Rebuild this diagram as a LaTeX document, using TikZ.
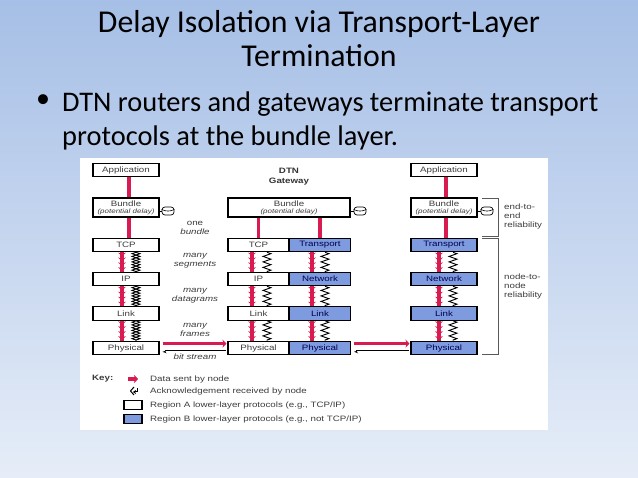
\documentclass[tikz,border=0pt]{standalone}
\usepackage{fontspec}
\setmainfont{Carlito}
\newfontfamily\figfont[FakeStretch=1.25]{Liberation Sans}
\usetikzlibrary{arrows.meta}
\usetikzlibrary{decorations.pathmorphing}
\usetikzlibrary{decorations.markings}
\definecolor{slidetop}{HTML}{A6BFE6}
\definecolor{slidebottom}{HTML}{E6EDF8}
\definecolor{datared}{HTML}{D81B50}
\definecolor{regionblue}{HTML}{7F9BE0}
\definecolor{labelgray}{HTML}{3C3C3C}
\tikzset{
	layerbox/.style={draw=black,line width=1.1pt,minimum height=13.5pt,inner sep=0pt,font=\figfont\fontsize{7.8}{8}\selectfont,text=labelgray},
	regionb/.style={fill=regionblue,text=blue!30!black},
	figtext/.style={font=\figfont\fontsize{7.8}{9}\selectfont,text=labelgray,align=center,inner sep=0pt},
	figslant/.style={figtext,font=\figfont\itshape\fontsize{7.8}{9}\selectfont},
	keytext/.style={figtext,anchor=west},
	dataline/.style={draw=datared,line width=3.6pt},
	datatip/.style={dataline,-{Stealth[length=4pt,width=8pt]}},
	datastack/.style={dataline,line width=4.5pt,postaction={decorate},decoration={markings,
		mark=at position 0.2 with {\arrow[datared]{Stealth[width=8pt,length=3.5pt]}},
		mark=at position 0.45 with {\arrow[datared]{Stealth[width=8pt,length=3.5pt]}},
		mark=at position 0.7 with {\arrow[datared]{Stealth[width=8pt,length=3.5pt]}},
		mark=at position 0.95 with {\arrow[datared]{Stealth[width=8pt,length=3.5pt]}}}},
	ackline/.style={draw=black,line width=0.9pt,decorate,decoration={zigzag,segment length=5.5pt,amplitude=4pt}},
	ackmirror/.style={ackline,decoration={zigzag,segment length=5.5pt,amplitude=4pt,mirror}},
	drum/.style={draw=black,line width=0.7pt,rounded corners=3pt,minimum width=12pt,minimum height=8pt,inner sep=0pt},
	bracketline/.style={draw=black!65,line width=0.8pt},
	hollowline/.style={line width=0.7pt,double=white,double distance=1.6pt,draw=black,-{Stealth[length=4pt,open,fill=white]}},
}
\begin{document}
\begin{tikzpicture}[x=1pt,y=-1pt]
	\useasboundingbox (0,0) rectangle (638,478);
	\shade[top color=slidetop,bottom color=slidebottom] (0,0) rectangle (638,478);
	\fill[white] (80,158) rectangle (548,430);

	\node[font=\fontsize{31.8}{34}\selectfont,text=black,align=center] (title) at (319,39) {Delay Isolation via Transport-Layer\\Termination};
	\node[font=\fontsize{28}{30}\selectfont,text=black,inner sep=0pt] (bullet) at (43,101) {•};
	\node[font=\fontsize{28.4}{34}\selectfont,text=black,anchor=north west,align=left,inner sep=0pt] (body) at (62,92) {DTN routers and gateways terminate transport\\protocols at the bundle layer.};

	% left node
	\begin{scope}[every node/.style={layerbox,minimum width=66pt}]
		\node (appA) at (126,170) {Application};
		\node[minimum height=19pt,align=center] (bundleA) at (126,207.5) {Bundle\\[-1pt]{\itshape\fontsize{6.4}{7}\selectfont (potential delay)}};
		\node (tcpA) at (126,245) {TCP};
		\node (ipA) at (126,279) {IP};
		\node (linkA) at (126,313.5) {Link};
		\node (physA) at (126,348) {Physical};
	\end{scope}

	% gateway
	\begin{scope}[every node/.style={layerbox,minimum width=61pt}]
		\node[minimum width=122pt,minimum height=19pt,align=center] (bundleG) at (289,207.5) {Bundle\\[-1pt]{\itshape\fontsize{6.4}{7}\selectfont (potential delay)}};
		\node (tcpG) at (258.5,245) {TCP};
		\node (ipG) at (258.5,279) {IP};
		\node (linkG) at (258.5,313.5) {Link};
		\node (physG) at (258.5,348) {Physical};
		\node[regionb] (transG) at (320,245) {Transport};
		\node[regionb] (netG) at (320,279) {Network};
		\node[regionb] (linkH) at (320,313.5) {Link};
		\node[regionb] (physH) at (320,348) {Physical};
	\end{scope}

	% right node
	\begin{scope}[every node/.style={layerbox,minimum width=66pt}]
		\node (appB) at (444,170) {Application};
		\node[minimum height=19pt,align=center] (bundleB) at (444,207.5) {Bundle\\[-1pt]{\itshape\fontsize{6.4}{7}\selectfont (potential delay)}};
		\node[regionb] (transB) at (444,245) {Transport};
		\node[regionb] (netB) at (444,279) {Network};
		\node[regionb] (linkB) at (444,313.5) {Link};
		\node[regionb] (physB) at (444,348) {Physical};
	\end{scope}

	% storage
	\begin{scope}[every node/.style={drum}]
		\node (drumA) at (168,211) {};
		\node (drumG) at (360,211) {};
		\node (drumB) at (487,211) {};
	\end{scope}
	\foreach \bundle/\store in {bundleA/drumA,bundleG/drumG,bundleB/drumB} {
		\draw[line width=0.8pt] (\bundle.east |- \store) -- (\store);
		\draw[line width=0.6pt] ([yshift=1.5pt]\store.west) to[bend right=25] ([yshift=1.5pt]\store.east);
	}

	% single bundle arrows
	\draw[dataline] ([xshift=3pt]appA.south) -- ([xshift=3pt]bundleA.north);
	\draw[dataline] ([xshift=3pt]bundleA.south) -- ([xshift=3pt]tcpA.north);
	\draw[dataline] (bundleG.south -| tcpG) -- (tcpG.north);
	\draw[dataline] (bundleG.south -| transG) -- (transG.north);
	\draw[dataline] ([xshift=2pt]appB.south) -- ([xshift=2pt]bundleB.north);
	\draw[dataline] ([xshift=2pt]bundleB.south) -- ([xshift=2pt]transB.north);

	% segments, datagrams, frames
	\foreach \upper/\lower in {tcpA/ipA,ipA/linkA,linkA/physA} {
		\draw[datastack] ([xshift=-4pt]\upper.south) -- ([xshift=-4pt]\lower.north);
		\draw[ackline] ([xshift=10pt]\upper.south) -- ([xshift=10pt]\lower.north);
		\draw[ackmirror] ([xshift=10pt]\upper.south) -- ([xshift=10pt]\lower.north);
	}
	\foreach \upper/\lower in {tcpG/ipG,ipG/linkG,linkG/physG} {
		\draw[datastack] ([xshift=-6.5pt]\upper.south) -- ([xshift=-6.5pt]\lower.north);
		\draw[ackline] ([xshift=8.5pt]\upper.south) -- ([xshift=8.5pt]\lower.north);
	}
	\foreach \upper/\lower in {transG/netG,netG/linkH,linkH/physH} {
		\draw[datastack] ([xshift=-8pt]\upper.south) -- ([xshift=-8pt]\lower.north);
		\draw[ackline] ([xshift=5pt]\upper.south) -- ([xshift=5pt]\lower.north);
	}
	\foreach \upper/\lower in {transB/netB,netB/linkB,linkB/physB} {
		\draw[datastack] ([xshift=-5pt]\upper.south) -- ([xshift=-5pt]\lower.north);
		\draw[ackline] ([xshift=9pt]\upper.south) -- ([xshift=9pt]\lower.north);
	}

	% bit stream
	\draw[datatip] ([xshift=3pt,yshift=-3pt]physA.north east) -- ([xshift=-1pt,yshift=-3pt]physG.north west);
	\draw[datatip] ([xshift=3pt,yshift=-3pt]physH.north east) -- ([xshift=-1pt,yshift=-3pt]physB.north west);
	\draw[hollowline] ([xshift=-1pt,yshift=3.5pt]physG.south west) -- ([xshift=3pt,yshift=3.5pt]physA.south east);
	\draw[hollowline] ([xshift=-1pt,yshift=3.5pt]physB.south west) -- ([xshift=3pt,yshift=3.5pt]physH.south east);

	% brackets
	\coordinate (endTop) at (482,198);
	\coordinate (endBot) at (482,236);
	\coordinate (hopTop) at (482,238.5);
	\coordinate (hopBot) at (482,354);
	\draw[bracketline] (endTop) -- ++(16,0) |- (endBot);
	\draw[bracketline] (hopTop) -- ++(16,0) |- (hopBot);

	% labels
	\begin{scope}[every node/.style={figtext}]
		\node[font=\figfont\bfseries\fontsize{7.8}{10}\selectfont,text=black!80] (gwlabel) at (289,177) {DTN\\Gateway};
		\node[figslant] (onebundle) at (195,227.5) {\upshape one\\bundle};
		\node[figslant] (segments) at (195,261) {many\\segments};
		\node[figslant] (datagrams) at (195,295.5) {many\\datagrams};
		\node[figslant] (frames) at (195,329.5) {many\\frames};
		\node[figslant] (bitstream) at (195,357) {bit stream};
		\node[anchor=west,align=left] (endlabel) at (504,216.5) {end-to-\\end\\reliability};
		\node[anchor=west,align=left] (hoplabel) at (504,286.5) {node-to-\\node\\reliability};
	\end{scope}

	% key
	\node[figtext,anchor=west,font=\figfont\bfseries\fontsize{7.8}{9}\selectfont] (keylabel) at (92,379) {Key:};
	\node[keytext] (keydata) at (150,379) {Data sent by node};
	\node[keytext] (keyack) at (150,391) {Acknowledgement received by node};
	\node[keytext] (keya) at (150,405) {Region A lower-layer protocols (e.g., TCP/IP)};
	\node[keytext] (keyb) at (150,419) {Region B lower-layer protocols (e.g., not TCP/IP)};
	\coordinate (dataFrom) at (128,379);
	\coordinate (dataTo) at (138,379);
	\draw[datatip] (dataFrom) -- (dataTo);
	\coordinate (ackFrom) at (134,387);
	\draw[line width=1pt] (ackFrom) -- ++(-3.5,4) -- ++(3.5,4);
	\draw[line width=1pt,-{Stealth[length=3pt,width=4pt]}] (137,388.5) -- (137,392) -- (133,392);
	\node[draw=black,line width=1.1pt,minimum width=18pt,minimum height=9.5pt,inner sep=0pt,fill=white] (swatchA) at (133,405) {};
	\node[draw=black,line width=1.1pt,minimum width=18pt,minimum height=9.5pt,inner sep=0pt,fill=regionblue] (swatchB) at (133,419) {};
\end{tikzpicture}
\end{document}
